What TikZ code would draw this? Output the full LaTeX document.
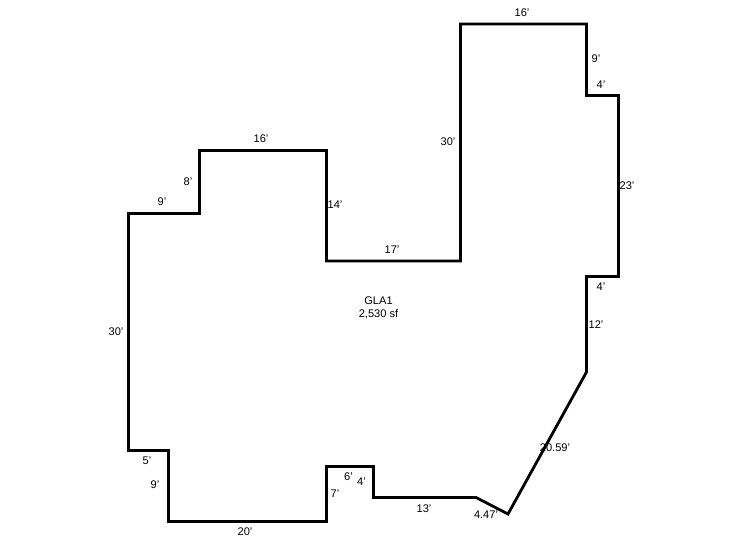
\documentclass[tikz,border=0pt]{standalone}
\usepackage{fontspec}
\setmainfont{Liberation Sans}
\tikzset{wall/.style={draw=black,line width=2.1pt,line join=miter},
lab/.style={font=\fontsize{8.3pt}{10pt}\selectfont,inner sep=0pt,text=black}}
\begin{document}
\begin{tikzpicture}[x=0.75pt,y=-0.75pt]
\useasboundingbox (0,0) rectangle (746,547);
\draw[wall] (128.5,213.5)--(199.5,213.5)--(199.5,150.5)--(326.5,150.5)--(326.5,261)--(460.5,261)--(460.5,24)--(586.5,24)--(586.5,95.5)--(618.5,95.5)--(618.5,276.5)--(586.5,276.5)--(586.5,372)--(508,514)--(476,497.5)--(373.5,497.5)--(373.5,466.5)--(326.5,466.5)--(326.5,521.5)--(168.5,521.5)--(168.5,450.5)--(128.5,450.5)--cycle;
\foreach \n/\x/\y/\t in {a/522/13/16',b/596/59/9',c/601/85/4',d/627/186/23',e/601/287/4',f/596/325/12',g/555/448/20.59',h/486/515/4.47',i/424/509/13',j/361.5/482/4',k/348.5/477/6',l/335/494/7',m/245/532/20',n/155/485/9',o/147/461/5',p/116/332/30',q/162/202/9',r/188/182/8',s/261/139/16',t/335/205/14',u/392/250/17',v/448/142/30'}
  \node[lab] (\n) at (\x,\y) {\t};
\node[lab,align=center] (gla) at (378.5,308) {GLA1\\2,530 sf};
\end{tikzpicture}
\end{document}
